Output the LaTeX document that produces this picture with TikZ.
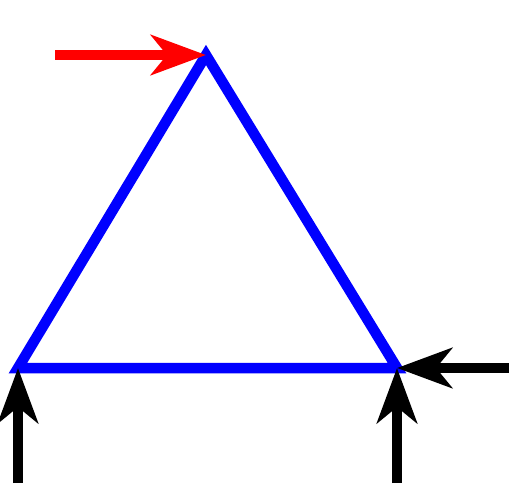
\documentclass[tikz,border=0pt]{standalone}
\usetikzlibrary{arrows.meta}

\begin{document}
\begin{tikzpicture}[x=1pt,y=-1pt,
        member/.style={draw=blue,line width=10.5pt},
        load/.style={line width=10pt,-{Stealth[length=55pt,width=40pt,inset=16pt]}}]
        \useasboundingbox (0,0) rectangle (509,499);
        % the three corners
        \coordinate (top) at (206,55);
        \coordinate (left) at (18,368);
        \coordinate (right) at (397,368);

        % a triangle
        \draw[member] (top) -- (right) -- (left) -- cycle;

        % the loads on the corners
        \coordinate (redstart) at (55,55);
        \coordinate (leftstart) at (18,483);
        \coordinate (rightstart) at (397,483);
        \coordinate (sidestart) at (509,368);
        \draw[load,red] (redstart) -- (top);
        \draw[load,black] (leftstart) -- (left);
        \draw[load,black] (rightstart) -- (right);
        \draw[load,black] (sidestart) -- (right);
    \end{tikzpicture}
\end{document}
